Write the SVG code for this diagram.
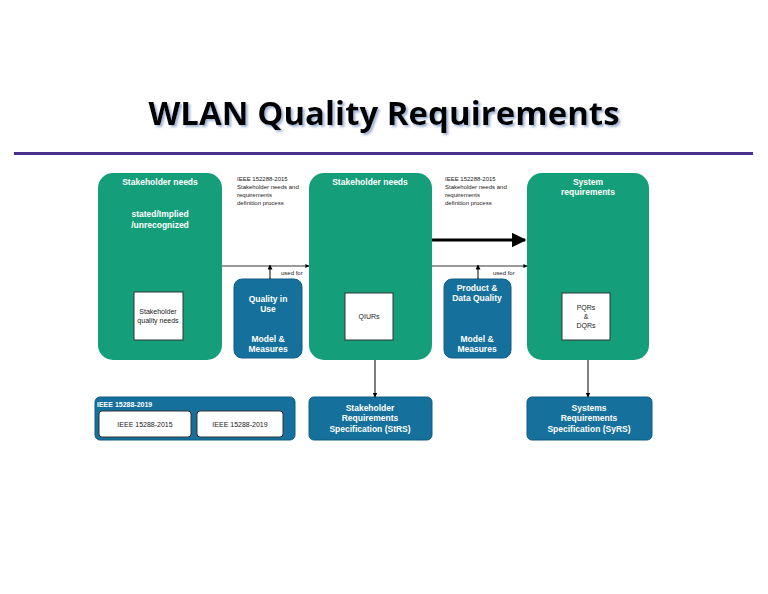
<svg xmlns="http://www.w3.org/2000/svg" width="768" height="594" viewBox="0 0 768 594">
<style>
.g{fill:#159e7a}
.b{fill:#15709c;stroke:#0f5d85;stroke-width:1}
.w{fill:#fff;stroke:#333;stroke-width:1}
.t{font-family:"Liberation Sans",Arial,sans-serif;font-weight:bold;fill:#fff;text-anchor:middle}
.s{font-family:"Liberation Sans",Arial,sans-serif;fill:#222;font-size:6px}
.k{font-family:"Liberation Sans",Arial,sans-serif;fill:#222;text-anchor:middle;font-size:7px}
</style>
<defs>
<marker id="a" viewBox="0 0 10 10" refX="9" refY="5" markerWidth="5" markerHeight="5" orient="auto"><path d="M0,0L10,5L0,10z" fill="#000"/></marker>
<marker id="a2" viewBox="0 0 10 10" refX="9" refY="5" markerWidth="5" markerHeight="5" orient="auto"><path d="M0,0L10,5L0,10z" fill="#000"/></marker>
<filter id="sh" x="-5%" y="-20%" width="110%" height="140%"><feDropShadow dx="2" dy="2" stdDeviation="0.8" flood-color="#8aa0c8" flood-opacity="0.8"/></filter>
</defs>
<rect width="768" height="594" fill="#fff"/>
<text x="384" y="125" text-anchor="middle" font-family="Open Sans,sans-serif" font-weight="bold" font-size="33" fill="#000" filter="url(#sh)">WLAN Quality Requirements</text>
<rect x="14" y="152" width="739" height="3" fill="#4b2f8a"/>
<g id="n1"><rect class="g" x="98" y="173" width="124" height="187" rx="15"/>
<text class="t" x="160" y="185" font-size="8.5">Stakeholder needs</text>
<text class="t" x="160" y="217" font-size="8.5">stated/Implied</text>
<text class="t" x="160" y="228" font-size="8.5">/unrecognized</text>
<rect class="w" x="134" y="292" width="49" height="48"/>
<text class="k" x="158" y="314">Stakeholder</text><text class="k" x="158" y="323">quality needs</text></g>
<g id="n2"><rect class="g" x="309" y="173" width="123" height="187" rx="15"/>
<text class="t" x="370" y="185" font-size="8.5">Stakeholder needs</text>
<rect class="w" x="345" y="293" width="48" height="47"/>
<text class="k" x="369" y="319">QIURs</text></g>
<g id="n3"><rect class="g" x="527" y="173" width="122" height="187" rx="15"/>
<text class="t" x="588" y="185" font-size="8.5">System</text><text class="t" x="588" y="195" font-size="8.5">requirements</text>
<rect class="w" x="562" y="293" width="48" height="47"/>
<text class="k" x="586" y="310">PQRs</text><text class="k" x="586" y="319">&amp;</text><text class="k" x="586" y="328">DQRs</text></g>
<g id="q1"><rect class="b" x="234" y="279" width="68" height="79" rx="8"/>
<text class="t" x="268" y="302" font-size="8.5">Quality in</text><text class="t" x="268" y="312" font-size="8.5">Use</text>
<text class="t" x="268" y="342" font-size="8.5">Model &amp;</text><text class="t" x="268" y="352" font-size="8.5">Measures</text></g>
<g id="q2"><rect class="b" x="444" y="279" width="67" height="79" rx="8"/>
<text class="t" x="477" y="291" font-size="8.5">Product &amp;</text><text class="t" x="477" y="301" font-size="8.5">Data Quality</text>
<text class="t" x="477" y="342" font-size="8.5">Model &amp;</text><text class="t" x="477" y="352" font-size="8.5">Measures</text></g>
<g id="strs"><rect class="b" x="309" y="397" width="123" height="43" rx="5"/>
<text class="t" x="370" y="411" font-size="8.5">Stakeholder</text><text class="t" x="370" y="421" font-size="8.5">Requirements</text><text class="t" x="370" y="432" font-size="8.5">Specification (StRS)</text></g>
<g id="syrs"><rect class="b" x="527" y="397" width="125" height="43" rx="5"/>
<text class="t" x="589" y="411" font-size="8.5">Systems</text><text class="t" x="589" y="421" font-size="8.5">Requirements</text><text class="t" x="589" y="432" font-size="8.5">Specification (SyRS)</text></g>
<g id="ieee"><rect class="b" x="95" y="397" width="200" height="43" rx="5"/>
<text class="t" x="97" y="407" font-size="7" style="text-anchor:start">IEEE 15288-2019</text>
<rect class="w" x="99" y="411" width="92" height="26" rx="3"/><text class="k" x="145" y="427">IEEE 15288-2015</text>
<rect class="w" x="197" y="411" width="86" height="26" rx="3"/><text class="k" x="240" y="427">IEEE 15288-2019</text></g>
<g id="labels">
<text class="s" x="237" y="181">IEEE 152288-2015</text><text class="s" x="237" y="189">Stakeholder needs and</text><text class="s" x="237" y="197">requirements</text><text class="s" x="237" y="205">definition process</text>
<text class="s" x="445" y="181">IEEE 152288-2015</text><text class="s" x="445" y="189">Stakeholder needs and</text><text class="s" x="445" y="197">requirements</text><text class="s" x="445" y="205">definition process</text>
<text class="s" x="281" y="275">used for</text><text class="s" x="493" y="275">used for</text>
</g>
<g id="connectors" stroke="#000" fill="none">
<line x1="222" y1="266" x2="309" y2="266" stroke-width="0.8" marker-end="url(#a)"/>
<line x1="270" y1="279" x2="270" y2="265" stroke-width="1" marker-end="url(#a)"/>
<line x1="432" y1="240" x2="525" y2="240" stroke-width="3" marker-end="url(#a2)"/>
<line x1="432" y1="266" x2="527" y2="266" stroke-width="0.8" marker-end="url(#a)"/>
<line x1="478" y1="279" x2="478" y2="265" stroke-width="1" marker-end="url(#a)"/>
<line x1="375" y1="360" x2="375" y2="397" stroke-width="1" marker-end="url(#a)"/>
<line x1="588" y1="360" x2="588" y2="397" stroke-width="1" marker-end="url(#a)"/>
</g>
</svg>
